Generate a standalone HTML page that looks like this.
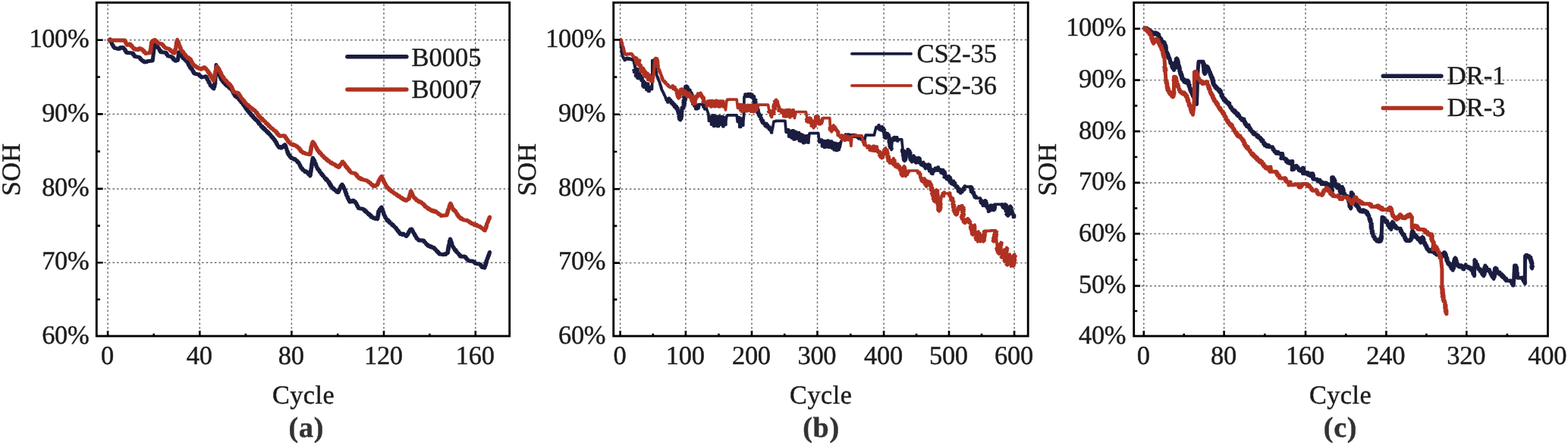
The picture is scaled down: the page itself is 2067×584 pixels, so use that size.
<!DOCTYPE html>
<html lang="en">
<head>
<meta charset="utf-8">
<title>SOH degradation curves</title>
<style>
html,body{margin:0;padding:0;background:#fff;}
body{width:2067px;height:584px;overflow:hidden;font-family:"Liberation Serif",serif;}
svg{display:block;}
</style>
</head>
<body>
<svg role="img" aria-label="SOH versus cycle for three battery datasets" width="2067" height="584" viewBox="0 0 2067 584" font-family="'Liberation Serif', 'Times New Roman', serif" font-size="34.5" fill="#1c1c1c" stroke="#1c1c1c" stroke-width="0.45" paint-order="stroke" text-rendering="geometricPrecision">
<rect width="2067" height="584" fill="#fff" stroke="none"/>
<g id="panel-a">
<path d="M142.10 5.40V443.05M263.30 5.40V443.05M384.40 5.40V443.05M506.00 5.40V443.05M626.80 5.40V443.05M137.30 52.70H671.70M137.30 150.40H671.70M137.30 248.90H671.70M137.30 346.30H671.70" stroke="#686868" stroke-width="1.45" stroke-dasharray="2.5 3.1" fill="none"/>
<path d="M145.0 51.9L145.2 53.2L146.4 54.0L146.1 55.5L147.3 56.3L147.5 57.5L147.7 58.8L149.1 59.5L148.9 61.0L150.2 61.7L150.6 63.1L156.2 64.4L157.7 64.3L158.1 62.7L159.4 62.5L160.5 63.2L161.9 62.3L163.1 63.1L163.4 64.4L164.8 65.1L164.7 66.6L166.1 67.2L165.9 68.7L166.9 69.4L174.4 70.0L175.7 70.5L175.5 72.3L177.2 72.5L177.1 74.2L178.1 74.4L183.8 75.6L184.9 76.3L184.9 78.0L186.5 78.2L186.7 79.7L187.5 80.0L188.9 80.0L189.5 81.6L191.2 81.9L192.3 81.1L193.8 81.5L195.0 80.6L201.2 80.0L202.5 68.8L203.8 58.8L205.1 58.9L206.2 60.0L206.6 61.3L208.1 61.7L208.1 63.3L209.6 63.7L210.0 65.0L210.2 66.4L211.9 66.8L211.6 68.5L212.5 68.8L218.8 69.4L219.8 70.2L219.5 71.8L221.0 72.4L221.2 73.8L226.9 75.0L227.1 76.4L228.9 76.6L228.6 78.4L230.2 78.7L230.6 80.0L231.9 80.3L233.0 79.1L234.4 79.4L235.6 68.8L235.9 70.1L237.6 70.4L237.6 72.0L238.8 72.5L240.0 73.1L239.8 74.8L241.5 75.1L241.3 76.8L242.5 77.5L243.9 77.8L244.1 79.5L245.7 79.5L245.9 81.2L246.9 81.2L247.8 82.2L247.6 83.7L248.9 84.4L248.6 86.0L250.0 86.7L250.0 87.5L250.2 88.9L251.8 89.2L251.8 90.8L253.5 91.1L253.8 92.5L254.0 93.8L255.4 94.4L255.2 96.0L256.2 96.9L261.2 98.1L262.7 98.3L263.0 100.0L264.5 100.0L264.9 101.6L266.2 101.9L271.2 100.6L272.3 101.5L272.1 103.0L273.5 103.7L273.3 105.2L274.4 106.2L275.3 107.2L275.0 108.7L276.3 109.5L276.9 111.2L277.2 112.6L278.9 112.8L278.9 114.5L280.5 114.7L280.6 116.3L281.9 116.9L281.6 115.5L282.8 114.5L282.1 113.1L283.3 112.1L282.7 110.7L283.9 109.6L283.2 108.2L283.8 107.5L285.0 85.6L284.9 87.0L286.2 87.9L285.7 89.3L286.9 90.3L286.5 91.7L287.7 92.6L287.2 94.1L288.4 95.0L288.0 96.5L289.2 97.4L288.8 98.8L289.9 99.8L290.0 101.2L290.3 102.5L291.8 103.0L291.5 104.8L293.1 105.2L293.0 106.8L294.6 107.2L294.4 108.8L295.4 109.6L296.7 110.0L297.0 111.6L298.8 111.3L299.0 113.1L300.8 112.9L301.1 113.9L301.5 115.3L303.3 115.3L303.3 117.0L305.0 117.1L305.2 118.6L306.1 118.9L307.1 119.8L306.7 121.4L308.0 122.2L307.8 123.6L309.1 124.4L309.2 125.8L310.0 126.9L311.6 126.7L312.0 128.4L313.6 128.9L314.9 129.4L314.8 131.2L316.4 131.5L316.4 133.1L318.1 133.3L318.0 135.0L319.7 135.2L319.9 136.4L320.1 137.7L321.7 138.2L321.7 139.7L323.2 140.2L323.1 141.8L324.6 142.2L324.5 143.9L326.1 144.2L326.1 145.2L326.4 146.5L328.1 146.8L328.1 148.4L329.8 148.6L329.7 150.3L331.3 150.6L331.2 152.3L332.4 152.7L333.7 153.1L333.7 154.9L335.3 155.0L335.4 156.6L337.1 156.7L337.2 158.4L338.6 158.9L339.9 159.5L339.8 161.1L341.4 161.4L341.2 163.2L342.9 163.5L343.6 165.2L344.1 166.4L345.8 166.5L345.8 168.2L347.6 168.2L347.6 170.0L349.4 170.0L349.4 171.7L351.1 171.8L351.1 172.7L351.5 174.0L353.4 173.9L353.3 175.7L355.0 175.8L355.2 177.4L356.8 177.5L357.4 178.9L357.6 180.3L359.4 180.5L359.3 182.1L360.8 182.5L360.9 184.1L362.5 184.4L362.3 186.1L363.4 186.6L364.4 187.5L364.1 189.1L365.4 189.8L365.3 191.2L366.5 192.0L366.8 193.2L367.7 194.3L369.3 193.5L370.1 195.1L371.3 194.9L371.7 193.6L373.5 193.6L373.6 191.9L375.3 191.8L375.6 190.6L376.4 191.7L376.2 193.1L377.3 194.0L377.0 195.5L378.1 196.4L378.1 197.5L378.2 198.8L379.4 199.7L378.9 201.2L380.3 202.0L379.9 203.5L380.6 204.4L382.0 204.8L382.0 206.5L383.6 206.7L383.7 208.4L385.0 208.8L386.4 208.7L387.2 210.1L388.7 209.5L390.0 210.6L390.5 211.9L392.0 212.2L392.0 213.9L393.7 214.0L394.4 215.6L394.6 216.9L395.8 217.7L395.6 219.2L396.9 219.9L396.8 221.4L397.5 221.9L398.8 222.4L398.9 224.0L400.5 224.2L401.2 225.6L402.2 226.6L403.8 225.9L405.0 226.9L405.3 228.2L406.9 228.6L406.8 230.2L408.5 230.5L408.8 231.9L409.4 230.7L408.7 229.3L409.7 228.2L409.1 226.9L410.2 225.8L409.6 224.4L410.5 223.3L410.0 221.9L411.0 220.8L410.6 220.0L410.5 218.7L411.4 217.6L410.7 216.2L411.8 215.1L411.2 213.8L412.1 212.6L411.6 211.3L412.5 210.2L412.0 208.8L412.5 208.1L412.5 209.5L414.0 210.2L413.7 211.7L415.0 212.5L415.0 213.8L415.2 215.0L416.4 215.9L416.0 217.4L417.2 218.2L417.0 219.7L418.2 220.6L418.1 221.2L418.3 222.6L419.9 223.0L419.9 224.6L421.4 225.0L421.3 226.7L422.5 227.5L423.7 228.2L423.6 229.8L425.2 230.1L425.2 231.8L426.8 232.1L427.5 233.8L428.0 235.0L429.7 235.1L429.7 236.9L431.5 236.8L431.6 238.5L432.5 238.8L433.6 239.5L433.3 241.2L435.0 241.6L434.6 243.4L436.4 243.7L435.8 245.5L437.5 245.9L437.5 246.9L438.0 248.2L439.8 248.0L439.9 249.8L441.6 249.8L442.0 251.3L443.6 251.3L443.8 253.0L445.5 252.9L445.6 253.8L446.5 252.8L446.3 251.3L447.6 250.5L447.2 249.0L448.5 248.2L448.8 246.9L448.9 245.5L450.6 245.1L450.4 243.5L451.2 243.1L451.4 244.4L452.6 245.2L452.3 246.8L453.7 247.5L453.4 249.0L454.4 250.0L455.3 251.0L454.8 252.5L456.1 253.4L455.7 254.8L457.0 255.7L456.5 257.2L457.5 258.8L458.5 259.6L458.2 261.2L459.5 261.9L459.3 263.4L460.7 264.1L460.5 265.7L461.2 266.2L462.3 265.4L463.8 265.9L464.5 264.3L466.2 264.4L466.5 265.8L468.4 265.9L468.3 267.6L469.9 267.9L470.0 268.8L470.1 270.1L471.4 270.9L471.2 272.3L472.5 273.1L472.5 274.4L478.8 275.6L479.3 276.9L481.1 276.8L481.1 278.6L482.9 278.5L483.0 280.2L484.7 280.2L485.0 281.2L485.5 282.6L487.3 282.4L487.4 284.2L489.2 284.1L489.2 285.9L490.9 285.9L491.2 286.9L492.3 287.7L493.8 287.2L494.7 288.4L496.2 287.7L497.5 288.8L498.1 287.6L497.5 286.2L498.6 285.1L498.0 283.8L499.1 282.7L498.3 281.3L499.4 280.2L498.7 278.8L499.4 278.1L500.5 277.4L500.4 275.7L502.1 275.5L502.0 273.9L503.1 273.1L503.2 274.4L504.2 275.4L503.9 276.8L505.0 277.8L504.6 279.2L505.8 280.1L505.6 281.2L505.7 282.6L507.0 283.4L506.9 284.8L508.1 285.6L507.9 287.1L508.8 288.1L510.0 288.6L510.0 290.4L511.9 290.3L511.8 292.1L513.6 292.1L513.6 293.9L515.0 294.4L516.3 294.8L516.5 296.4L518.2 296.4L518.4 298.0L519.9 298.2L520.3 299.7L521.2 300.0L522.5 300.6L522.4 302.2L523.9 302.7L523.9 304.3L525.6 304.6L525.5 306.2L527.0 306.6L527.0 308.2L528.1 308.8L529.4 308.1L530.6 309.4L531.9 308.1L532.5 308.8L533.3 309.8L534.9 309.7L535.2 311.4L536.2 311.2L536.4 309.9L537.8 309.2L537.6 307.8L538.9 307.0L538.7 305.5L540.0 304.7L540.0 303.8L540.6 302.5L542.3 302.7L542.5 301.9L543.4 302.8L543.4 304.2L544.7 304.9L544.6 306.4L545.6 307.5L546.6 308.4L546.5 309.9L547.9 310.5L547.8 312.0L549.1 312.7L549.0 314.2L550.0 315.0L551.4 315.3L551.7 316.8L552.5 316.9L557.5 316.9L558.9 317.3L558.9 319.0L560.5 319.2L561.2 320.6L561.7 321.9L563.4 322.0L563.5 323.7L565.0 324.4L566.4 324.1L567.3 325.5L568.8 324.8L569.6 326.4L571.2 326.2L572.5 326.7L572.7 328.4L574.3 328.5L575.0 330.0L575.4 331.3L577.2 331.4L577.3 333.0L578.8 333.2L579.0 334.9L580.0 335.0L585.0 335.6L586.0 334.8L587.6 335.4L588.3 333.8L590.0 333.8L590.7 332.6L590.1 331.2L591.0 330.1L590.3 328.7L591.5 327.7L590.8 326.3L591.9 325.2L591.2 323.8L591.9 322.5L592.6 321.4L592.1 320.0L593.2 318.9L592.5 317.5L593.5 316.5L593.5 315.0L594.2 316.1L593.9 317.5L595.0 318.5L594.7 319.9L595.9 320.8L595.3 322.3L596.2 323.8L597.2 324.6L597.2 326.1L598.4 326.8L598.8 328.1L599.2 329.4L600.9 329.6L600.8 331.4L602.4 331.6L602.6 333.1L603.8 333.8L604.9 334.4L604.9 336.1L606.6 336.2L606.6 337.9L607.5 338.1L612.5 338.1L613.8 338.6L613.8 340.3L615.3 340.6L615.5 342.2L617.0 342.5L617.5 343.8L623.8 344.4L624.4 345.5L626.0 345.6L626.3 347.2L627.5 347.5L632.5 348.1L633.7 348.8L633.7 350.4L635.4 350.5L635.3 352.3L636.2 352.5L637.6 352.3L638.8 353.1L639.4 352.0L639.1 350.6L640.3 349.7L639.8 348.2L641.0 347.3L640.4 345.8L641.7 344.9L641.2 343.4L641.9 342.5L642.7 341.5L642.4 340.0L643.6 339.1L643.3 337.7L644.5 336.8L644.2 335.3L645.3 334.5L645.1 333.0L645.6 332.5" stroke="#1a1d40" stroke-width="5.1" fill="none" stroke-linejoin="round" stroke-linecap="round"/>
<path d="M143.8 53.1L164.4 53.1L164.5 54.5L165.9 55.2L165.7 56.7L167.0 57.4L166.9 58.9L167.5 59.4L168.6 58.5L170.1 59.3L171.0 57.8L171.9 58.1L172.2 59.4L173.7 59.9L173.5 61.6L175.2 61.9L175.6 63.8L176.7 64.6L178.2 64.0L179.0 65.3L180.5 64.9L181.2 65.6L182.6 65.5L183.2 63.9L185.0 63.8L185.7 64.9L187.4 64.7L187.8 66.3L188.8 66.2L190.0 66.9L189.7 68.7L191.3 69.0L191.9 70.6L198.1 69.4L198.7 68.2L197.9 66.8L199.1 65.7L198.4 64.4L199.3 63.2L198.7 61.9L199.7 60.8L199.1 59.4L199.9 58.3L199.3 56.9L200.3 55.8L200.0 55.0L200.8 53.9L202.4 54.2L203.0 52.7L204.4 52.5L204.8 53.8L206.5 54.0L206.4 55.7L208.1 55.9L208.1 56.9L213.8 58.1L214.1 59.4L215.6 59.8L215.7 61.4L217.1 61.9L217.5 63.1L223.1 64.4L223.5 65.7L225.2 65.9L225.2 67.5L226.8 67.8L226.9 68.8L227.8 69.7L229.4 69.0L230.0 70.0L230.7 68.9L230.2 67.5L231.3 66.5L230.8 65.1L231.9 64.0L231.9 62.5L231.8 61.2L232.7 60.1L232.1 58.7L233.3 57.7L232.5 56.3L233.8 55.2L233.0 53.8L233.8 52.5L233.8 53.8L235.1 54.6L234.8 56.1L235.9 57.0L236.2 58.8L236.2 60.1L237.4 61.0L237.1 62.4L238.3 63.3L237.8 64.8L238.8 66.2L240.1 66.7L240.1 68.5L241.8 68.5L242.5 70.0L242.8 71.3L244.3 71.8L244.0 73.5L245.7 73.9L246.2 75.6L247.2 76.7L248.8 76.0L249.5 77.7L250.6 77.5L251.6 78.4L251.3 79.9L252.7 80.6L252.5 82.2L253.9 82.9L253.7 84.4L254.4 85.0L255.7 85.3L256.1 86.9L257.7 86.7L258.8 88.1L259.5 89.3L261.2 88.9L261.8 90.3L263.4 90.1L264.4 91.2L265.7 91.2L266.5 89.8L268.0 90.1L268.7 88.7L270.0 88.8L270.3 90.1L271.9 90.4L271.9 92.0L273.1 92.5L274.2 93.3L274.0 94.9L275.6 95.4L275.5 96.9L277.1 97.4L276.6 99.2L277.5 99.4L278.6 100.1L278.4 101.8L279.9 102.3L279.7 103.9L281.4 104.3L281.0 106.0L281.9 106.2L281.6 104.9L282.6 103.8L282.1 102.5L283.2 101.4L282.4 100.0L283.5 98.9L283.0 97.6L284.0 96.5L283.8 95.0L283.8 93.7L285.0 92.8L284.5 91.3L285.8 90.4L285.3 88.9L286.2 87.5L286.4 88.9L287.9 89.4L287.7 91.0L289.3 91.5L289.4 92.5L289.5 93.8L290.8 94.6L290.5 96.1L291.9 96.9L291.5 98.4L292.5 99.4L293.6 100.2L293.4 101.8L295.1 102.2L294.9 103.8L296.2 105.0L297.6 105.4L297.7 107.1L299.3 107.2L300.0 108.8L300.6 110.0L302.2 110.0L302.3 111.8L303.9 111.9L304.0 113.6L305.0 113.8L305.8 114.8L305.5 116.2L306.8 117.1L306.6 118.5L307.7 119.4L307.5 120.8L308.1 121.2L313.8 122.5L314.9 123.2L314.8 124.8L316.3 125.3L316.1 126.9L317.6 127.4L317.6 129.0L318.8 130.0L319.9 130.7L320.0 132.2L321.6 132.5L321.6 134.2L323.1 134.5L323.1 136.1L324.7 136.4L325.0 137.5L325.7 138.6L327.4 138.5L327.6 140.3L329.2 140.2L329.6 141.8L330.6 141.9L331.9 142.2L332.2 143.9L333.8 143.9L334.2 145.4L335.9 145.3L336.9 146.9L337.3 148.1L338.9 148.5L338.7 150.2L340.2 150.6L340.1 152.3L341.8 152.6L341.7 154.2L342.5 154.4L343.8 154.8L343.9 156.5L345.7 156.4L345.7 158.2L347.5 158.2L347.7 159.8L349.3 159.9L350.0 161.2L350.5 162.5L352.2 162.6L352.3 164.2L353.9 164.4L354.0 166.1L355.7 166.1L356.2 167.5L356.8 168.8L358.5 168.7L358.9 170.2L360.4 170.3L360.8 171.8L362.5 172.5L363.8 173.0L363.8 174.7L365.5 174.8L365.4 176.6L367.1 176.8L367.2 178.4L368.8 179.4L375.0 178.8L376.1 179.6L375.9 181.2L377.5 181.6L377.3 183.2L378.1 183.8L379.3 184.4L379.2 186.1L380.8 186.4L380.9 188.0L382.3 188.4L382.5 189.4L383.8 190.0L384.8 190.9L386.3 190.1L387.2 191.5L388.7 191.0L390.0 191.9L390.6 193.1L392.3 193.0L392.6 194.6L393.8 195.0L395.0 195.6L394.8 197.4L396.5 197.6L396.3 199.3L397.5 200.0L398.9 200.0L399.5 201.6L401.1 201.2L402.5 202.5L408.8 203.8L409.4 202.6L408.7 201.2L409.9 200.1L409.2 198.8L410.3 197.7L409.6 196.3L410.6 195.2L409.9 193.8L410.6 192.5L411.4 191.5L411.0 190.0L412.2 189.1L411.8 187.6L412.5 186.9L412.6 188.3L414.2 188.7L414.1 190.3L415.5 190.9L415.6 191.9L415.9 193.2L417.2 193.9L416.9 195.4L418.3 196.1L418.0 197.7L418.8 198.1L420.1 198.6L419.9 200.4L421.7 200.5L421.6 202.3L423.3 202.4L423.8 203.8L424.2 205.1L425.9 205.1L426.1 206.7L427.6 207.0L427.7 208.6L428.8 208.8L430.1 209.1L430.3 210.8L432.0 210.6L432.3 212.4L434.0 212.2L435.0 213.8L435.8 214.9L437.5 214.3L438.0 216.1L440.0 216.2L441.4 216.4L441.7 218.1L443.4 217.9L443.8 219.5L445.4 219.5L446.2 220.6L447.5 220.0L447.4 218.3L448.9 217.9L448.9 216.4L450.0 215.6L451.2 215.0L451.0 213.2L451.9 213.1L452.1 214.5L453.7 214.9L453.5 216.6L455.1 217.0L455.0 218.1L455.4 219.4L457.1 219.6L456.9 221.4L458.6 221.6L458.8 222.5L459.1 223.8L460.8 224.1L460.6 225.8L462.2 226.2L462.5 227.5L468.8 228.8L468.9 230.2L470.7 230.5L470.3 232.2L471.9 232.7L472.5 234.4L473.5 235.3L475.1 234.7L475.7 236.4L477.3 235.8L478.8 236.9L483.8 238.1L484.5 239.3L486.0 239.2L486.5 240.7L488.1 240.7L488.8 241.9L489.2 243.2L490.9 243.2L491.1 244.8L492.5 245.6L493.5 244.8L495.1 245.4L495.8 243.9L497.5 243.8L498.2 242.7L497.9 241.2L499.1 240.3L498.8 238.9L500.0 238.0L500.0 236.9L500.4 235.6L501.8 235.1L501.7 233.5L503.1 232.5L503.3 233.8L504.5 234.6L504.3 236.1L505.5 236.9L505.1 238.4L506.5 239.2L506.2 240.0L506.5 241.3L508.0 241.9L507.8 243.5L509.2 244.1L509.0 245.6L510.0 246.2L511.2 246.8L511.4 248.4L513.1 248.5L513.1 250.2L514.9 250.2L515.0 251.2L515.7 252.4L517.3 252.3L517.8 253.8L519.4 253.7L519.8 255.3L521.2 255.6L522.7 255.8L523.0 257.5L524.6 257.4L525.0 259.0L526.8 258.6L527.5 260.0L528.3 261.1L530.0 260.7L530.5 262.4L532.1 262.1L532.6 263.7L534.2 263.3L535.0 264.4L536.4 264.3L536.9 262.6L538.8 262.5L539.6 261.4L539.1 260.0L540.2 259.0L539.7 257.6L540.9 256.6L540.5 255.2L541.6 254.2L541.1 252.8L541.9 251.9L541.9 253.2L543.2 254.0L542.9 255.5L544.1 256.4L543.9 257.8L545.1 258.7L545.0 259.4L545.5 260.6L547.1 260.8L547.3 262.3L548.9 262.6L548.9 264.3L550.0 264.4L551.3 264.5L551.9 266.1L553.6 265.6L554.3 267.0L555.8 266.7L556.2 267.5L556.8 268.7L558.5 268.8L558.5 270.5L560.2 270.6L560.2 272.4L561.2 272.5L562.6 272.8L563.0 274.4L564.6 274.2L565.0 275.9L566.7 275.6L567.5 276.9L568.5 277.8L570.0 277.2L570.8 278.7L572.4 277.9L573.2 279.4L574.8 278.7L576.2 280.0L576.9 281.2L578.4 281.3L578.8 282.8L580.3 282.9L581.2 284.4L588.8 283.8L589.5 282.7L589.1 281.2L590.3 280.3L589.8 278.8L591.0 277.9L590.6 276.5L591.7 275.5L591.9 273.8L591.9 272.4L593.1 271.5L592.7 270.1L593.8 269.1L593.8 268.1L594.7 269.1L594.5 270.5L595.8 271.3L595.4 272.9L596.6 273.7L596.9 275.0L597.2 276.4L598.9 276.6L598.9 278.2L600.7 278.3L601.2 280.0L601.6 281.3L602.9 281.9L602.7 283.5L604.3 284.0L604.1 285.5L605.0 286.2L606.4 286.3L606.8 288.1L608.5 287.7L609.0 289.3L610.6 289.1L611.2 290.0L616.2 290.6L617.0 291.8L618.6 291.7L619.0 293.2L620.6 293.1L621.1 294.6L622.5 295.0L623.9 294.9L624.7 296.4L626.3 295.6L627.0 297.2L628.6 296.5L629.4 298.1L631.2 298.1L632.7 298.2L633.1 299.8L634.7 299.7L635.2 301.3L636.2 301.2L637.7 301.5L637.8 303.3L639.4 303.8L639.3 302.4L640.5 301.5L640.1 300.0L641.4 299.1L640.8 297.7L641.9 296.7L641.5 295.2L642.5 293.8L643.4 292.8L643.1 291.3L644.3 290.5L644.0 289.0L645.3 288.2L645.0 286.7L645.6 286.2" stroke="#b03121" stroke-width="5.1" fill="none" stroke-linejoin="round" stroke-linecap="round"/>
<path d="M142.10 443.05v-7M202.70 443.05v-3.2M263.30 443.05v-7M323.85 443.05v-3.2M384.40 443.05v-7M445.20 443.05v-3.2M506.00 443.05v-7M566.40 443.05v-3.2M626.80 443.05v-7M127.30 52.70h8.4M127.30 101.55h4.6M127.30 150.40h8.4M127.30 199.65h4.6M127.30 248.90h8.4M127.30 297.60h4.6M127.30 346.30h8.4M127.30 394.68h4.6" stroke="#000" stroke-width="2.6" fill="none"/>
<rect x="127.30" y="3.40" width="544.40" height="439.65" fill="none" stroke="#000" stroke-width="2.85"/>
<text x="117.3" y="62.1" text-anchor="end" letter-spacing="-0.4">100%</text>
<text x="117.3" y="159.9" text-anchor="end" letter-spacing="-0.4">90%</text>
<text x="117.3" y="257.6" text-anchor="end" letter-spacing="-0.4">80%</text>
<text x="117.3" y="355.4" text-anchor="end" letter-spacing="-0.4">70%</text>
<text x="117.3" y="453.2" text-anchor="end" letter-spacing="-0.4">60%</text>
<text x="141.5" y="479.6" text-anchor="middle" letter-spacing="-0.3">0</text>
<text x="262.7" y="479.6" text-anchor="middle" letter-spacing="-0.3">40</text>
<text x="383.8" y="479.6" text-anchor="middle" letter-spacing="-0.3">80</text>
<text x="505.4" y="479.6" text-anchor="middle" letter-spacing="-0.3">120</text>
<text x="626.2" y="479.6" text-anchor="middle" letter-spacing="-0.3">160</text>
<text transform="translate(26.0 223.7) rotate(-90)" text-anchor="middle">SOH</text>
<text x="400.0" y="532.4" text-anchor="middle" font-size="34.3" letter-spacing="0.45">Cycle</text>
<text x="403.8" y="575.6" text-anchor="middle" font-weight="bold" font-size="38" letter-spacing="0.7" fill="#333" stroke="#333">(a)</text>
<path d="M457.91 74.7H535.89" stroke="#1a1d40" stroke-width="5.5" stroke-linecap="round" fill="none"/>
<text x="542.4" y="87" font-size="34.6">B0005</text>
<path d="M457.91 118.1H535.89" stroke="#b03121" stroke-width="5.5" stroke-linecap="round" fill="none"/>
<text x="542.4" y="128.8" font-size="34.6">B0007</text>
</g>
<g id="panel-b">
<path d="M817.60 5.40V443.05M903.90 5.40V443.05M991.00 5.40V443.05M1077.50 5.40V443.05M1165.10 5.40V443.05M1251.00 5.40V443.05M1337.10 5.40V443.05M818.75 52.50H1355.20M818.75 150.80H1355.20M818.75 249.20H1355.20M818.75 346.60H1355.20" stroke="#686868" stroke-width="1.45" stroke-dasharray="2.5 3.1" fill="none"/>
<path d="M818.4 52.1L818.9 53.3L818.1 54.6L819.2 55.8L818.2 57.0L819.2 58.3L818.3 59.5L819.5 60.8L818.4 62.0L819.1 63.7L819.8 64.9L819.1 66.2L820.1 67.4L819.2 68.6L820.4 69.9L819.7 71.1L820.7 72.4L820.5 73.3L820.5 74.4L821.9 75.6L821.6 76.7L823.1 77.9L823.2 79.5H824.0V77.9H824.7V78.2H825.3V76.7H826.5V76.3H827.7V78.1H828.9V76.8H830.2V78.3H831.4V78.1H832.6V77.7H833.8V79.6H835.5V79.5L835.3 80.7L836.4 81.9L835.7 83.1L837.1 84.4L836.3 85.6L837.5 86.8L836.7 88.0L837.6 89.7L841.3 91.2L835.1 92.5L842.9 94.3L835.6 95.3L843.8 97.0L840.3 97.9L837.5 98.9L845.3 99.7L837.8 100.6L846.1 101.7L840.1 103.1L846.4 104.3L845.1 106.2H846.0V102.3H847.1V113.7H848.0V106.5H848.7V115.2H849.7V108.6H850.6V113.0H851.9V118.5H853.4V110.0H854.6V120.5H856.1V117.1H857.9V114.2H859.5V117.8L859.8 104.8L859.8 79.5H862.3V78.8L862.9 80.0L862.4 81.2L863.2 82.5L862.7 83.7L863.6 84.9L863.2 86.2L864.1 87.4L863.5 88.6L864.5 89.9L864.0 91.1L864.9 92.3L864.4 93.6L865.2 94.8L864.8 96.0L865.6 97.3L865.3 98.5L865.7 99.3L866.6 100.5L866.4 101.6L867.5 102.8L867.2 103.9L868.4 105.1L868.3 106.2L869.1 107.5L869.8 108.7L869.6 109.9L870.6 111.1L870.2 112.3L871.4 113.5L871.1 114.7L872.1 115.9L871.7 117.1L872.5 118.5L873.4 119.6L873.3 120.7L874.6 121.8L874.5 123.0L875.7 124.1L875.5 125.2L876.6 126.7L877.3 127.9L877.2 129.1L878.3 130.2L878.1 131.4L878.8 132.5H879.9V134.8H881.1V129.3H882.5V131.2H883.2V133.9H883.9V131.5H884.6V136.5H885.0V135.0H885.9V134.1H886.8V138.6H887.7V136.0H888.5V141.1H889.4V137.6H890.0V140.0H890.8V143.3H891.5V139.8H892.2V145.2H893.0V142.1H893.8V145.0L895.7 146.2L892.9 147.4L896.1 148.6L893.6 149.9L896.8 151.1L895.6 152.5L894.2 153.7L898.1 155.0L894.7 156.2L898.1 157.4L896.9 158.8L895.1 157.5L898.8 156.3L896.2 155.0L899.3 153.8L895.8 152.6L899.6 151.3L896.1 150.1L899.5 148.8L896.7 147.6L899.9 146.4L898.8 145.0L898.1 143.9L901.7 142.8L898.4 141.6L901.2 140.0L902.9 138.8L900.3 137.5L903.4 136.3L900.2 135.0L903.4 133.8L900.3 132.6L904.3 131.3L901.2 130.1L904.6 128.8L900.8 127.6L904.2 126.4L903.1 125.0L901.9 123.8L904.9 122.5L902.2 121.3L905.3 120.1L902.5 118.8L906.0 117.6L902.6 116.4L906.7 115.1L902.9 113.9L905.0 113.1L906.7 114.3L904.4 115.5L907.7 116.7L905.3 117.9L906.9 118.8H907.9V121.5H908.8V118.7H910.0V121.2L911.9 122.4L909.0 123.6L912.9 124.7L910.2 125.9L912.5 127.5L914.1 128.7L911.4 130.0L914.6 131.2L912.1 132.4L915.4 133.6L912.4 134.9L915.8 136.1L912.9 137.3L916.1 138.5L915.0 140.0H915.9V138.7H916.8V143.7H917.7V140.8H918.8V143.8L921.2 142.6L918.5 141.4L921.7 140.3L918.8 139.1L921.2 137.5H926.2V138.8H927.1V141.3H928.0V138.7H928.9V143.9H930.0V142.5H931.2L933.8 150.0L934.5 159.5H936.0V153.5H937.6V164.2H939.5V151.9H940.7V166.5H941.6V152.6H942.7V165.8H944.0V153.3H945.6V166.6H947.5V153.2H949.1V164.4H951.0V153.5H952.9V166.8H954.0V154.9H955.3V164.4H956.9V159.5L958.1 152.5H958.8V151.9H971.2L972.2 160.6H973.4V154.7H974.8V167.4H976.7V156.0H977.7V165.2H979.8V160.6L980.6 152.5L981.0 127.5H982.0V124.2H983.1V126.0H984.4V127.5H985.6V123.7H986.8V127.1H987.5V125.2H988.6V123.7H989.8V128.2H990.9V124.3H991.9V127.2H992.7V130.3H993.6V126.8H994.4V130.0L996.7 131.7L993.1 133.7L996.9 134.7L993.7 136.6L995.6 137.5L998.0 138.8L994.7 140.4L999.2 142.2L996.0 143.8L1000.1 144.8L996.7 145.7L998.8 146.2L1000.4 147.3L998.0 148.6L1001.6 149.9L999.4 151.4L1003.4 152.4L1000.5 153.6L1002.5 155.0L1004.4 155.8L1002.3 157.4L1006.4 158.8L1003.7 160.1L1007.1 161.0L1004.7 162.2L1007.5 163.8H1008.3V166.3H1009.5V162.6H1010.8V167.9H1011.9V164.7H1012.5V167.5H1013.3V170.3H1014.1V167.0H1015.0V172.0H1015.6V168.5H1016.7V174.9H1017.5V173.1L1018.8 167.5L1020.0 160.0H1022.5V159.4H1035.0L1036.2 174.4H1037.9V170.8H1039.7V180.1H1041.4V172.5H1043.2V182.0H1044.7V171.8H1046.1V183.9H1047.8V173.3H1049.1V183.1H1050.0V179.4H1051.6V174.7H1053.4V185.8H1054.4V176.6H1056.1V186.6H1057.0V177.8H1058.7V188.6H1060.2V179.0H1061.7V187.7H1063.3V178.8H1065.2V188.1H1066.0V184.4L1066.9 176.2H1067.5V175.6H1078.8L1080.0 187.5H1081.5V184.1H1083.5V193.0H1084.6V185.6H1086.5V194.4H1087.8V185.8H1089.3V193.6H1091.0V185.0H1092.2V194.3H1093.8V191.0H1094.9V186.1H1096.6V195.6H1098.1V188.1H1099.3V197.7H1101.2V188.7H1102.1V198.5H1104.0V189.7H1105.3V197.4H1106.2V188.8H1107.2V194.4L1108.8 186.2L1112.5 180.0H1113.5V180.3H1114.5V177.1H1115.0V178.1H1116.2V179.5H1117.5V177.0H1118.7V179.5H1120.0V177.6H1121.2V180.1H1122.5V177.9H1123.7V180.2H1125.0V177.7H1126.2V180.3H1127.4V178.1H1128.8V179.4H1129.7V181.1H1130.7V179.8H1131.6V182.8H1132.5V182.5H1133.7V181.5H1135.0V184.1H1136.2V181.8H1137.4V184.4H1138.7V182.2H1140.0V183.8L1141.2 178.1H1152.5V177.5L1155.0 167.5H1156.1V169.2H1157.5V166.2H1158.2V164.9H1158.9V171.0H1159.6V167.7H1160.0V170.0H1161.0V171.8H1162.0V166.8H1163.1V167.5L1164.9 168.6L1162.9 169.7L1166.4 170.9L1165.6 172.5L1164.3 173.7L1168.1 175.0L1164.9 176.2L1168.3 177.4L1165.2 178.6L1168.8 179.9L1165.4 181.1L1167.5 182.5L1169.6 181.3L1166.3 180.2L1170.0 179.0L1167.6 177.8L1170.9 176.6L1170.0 175.6L1169.0 176.8L1172.1 178.0L1169.3 179.2L1172.7 180.4L1169.9 181.6L1173.5 182.8L1172.5 183.8L1171.2 185.0L1174.7 186.2L1171.3 187.4L1175.2 188.7L1172.0 189.9L1175.3 191.1L1172.1 192.4L1175.6 193.6L1173.0 194.8L1176.0 196.0L1175.0 197.5L1176.2 185.0H1177.1V181.6H1178.0V185.1H1178.9V180.6H1179.4V181.9H1180.5V184.7H1181.7V180.9H1182.8V186.0H1183.8V183.8H1188.8V185.0L1190.0 196.2L1188.7 197.5L1192.3 198.7L1188.8 200.0L1192.5 201.2L1189.6 202.4L1192.8 203.7L1189.6 204.9L1193.1 206.1L1190.3 207.4L1193.2 208.6L1190.5 209.8L1194.0 211.1L1192.5 212.5L1191.0 211.3L1194.5 210.0L1191.8 208.8L1194.9 207.6L1191.4 206.3L1195.6 205.1L1191.9 203.8L1195.9 202.6L1192.3 201.4L1194.4 200.0H1195.4V201.6H1196.3V196.6H1197.5V197.5L1199.5 198.7L1196.5 199.9L1200.7 201.1L1197.6 202.2L1200.8 203.4L1200.0 205.0L1198.7 206.2L1202.2 207.4L1198.9 208.7L1202.9 209.9L1199.7 211.1L1203.0 212.3L1201.9 213.8L1201.0 212.5L1203.9 211.3L1201.6 210.1L1204.9 208.9L1202.3 207.7L1205.6 206.5L1204.4 205.0L1203.4 206.2L1206.5 207.4L1203.9 208.6L1207.8 209.8L1204.3 211.0L1207.9 212.2L1205.6 213.4L1207.5 215.0L1209.8 213.9L1207.1 212.8L1210.9 211.6L1207.8 210.5L1212.3 209.4L1208.8 208.3L1211.2 207.5L1213.0 208.7L1209.9 209.9L1213.4 211.1L1211.2 212.4L1214.1 213.6L1211.1 214.8L1214.7 216.0L1213.8 217.5H1214.8V215.0H1215.8V218.4H1216.9V213.6H1217.5V215.0L1219.6 216.2L1216.7 217.4L1220.1 218.6L1217.8 219.7L1221.3 220.9L1220.0 222.5L1219.1 221.4L1222.7 220.4L1220.0 219.3L1224.2 218.2L1221.7 217.1L1223.8 216.2L1226.1 217.4L1223.1 218.6L1226.6 219.8L1223.3 221.0L1227.4 222.2L1223.9 223.4L1228.0 224.6L1224.8 225.8L1228.7 227.0L1227.5 228.8H1228.2V225.6H1229.0V229.4H1229.8V223.3H1230.5V226.5H1231.2V223.8H1232.4V221.4H1233.5V225.0H1235.0V221.9H1236.1V220.0H1237.2V225.1H1238.8V223.8H1239.4V223.0H1240.1V228.1H1240.8V224.3H1241.2V227.5H1241.9V228.5H1242.6V223.7H1243.3V226.2H1243.8V223.8L1242.5 225.0L1245.9 226.2L1243.0 227.4L1246.5 228.6L1243.6 229.9L1246.9 231.1L1245.6 232.5L1244.2 233.6L1248.0 234.7L1247.5 236.2H1248.4V232.9H1249.3V237.1H1250.2V231.8H1251.2V232.5L1253.1 233.7L1249.9 234.9L1253.9 236.1L1251.1 237.4L1254.1 238.6L1251.3 239.8L1255.1 241.0L1253.8 242.5H1254.8V239.3H1255.8V243.4H1256.9V238.4H1257.5V240.0L1259.6 241.2L1256.8 242.4L1260.0 243.6L1257.7 244.7L1261.4 245.9L1260.0 247.5H1261.2V245.1H1262.3V248.6H1263.1V246.2L1262.1 247.5L1265.2 248.7L1262.1 249.9L1266.1 251.1L1262.6 252.3L1265.0 253.8H1265.9V254.8H1266.8V250.1H1267.7V253.2H1268.8V250.0H1269.6V247.4H1270.5V250.6H1271.4V245.2H1272.5V246.2H1280.0V245.6L1281.7 246.9L1278.6 248.1L1282.5 249.3L1279.2 250.5L1282.6 251.8L1279.7 253.0L1283.3 254.2L1281.9 255.0H1283.0V253.3H1284.2V257.6H1285.0V256.2L1283.4 257.5L1287.0 258.7L1284.2 259.9L1286.2 261.2H1292.5V262.5L1294.1 263.7L1291.8 264.9L1295.5 266.1L1292.5 267.3L1294.4 268.8H1295.4V271.3H1296.3V268.1H1297.5V271.2L1299.3 270.0L1296.1 268.8L1299.4 267.6L1296.3 266.3L1300.4 265.1L1298.8 263.8L1297.0 265.0L1300.6 266.2L1297.9 267.4L1301.4 268.6L1298.9 269.9L1302.0 271.1L1299.4 272.3L1302.6 273.5L1301.2 275.0H1301.9V273.9H1302.6V279.1H1303.3V275.8H1303.8V278.8L1306.0 277.5L1302.8 276.3L1306.5 275.1L1303.5 273.9L1306.9 272.7L1303.8 271.5L1306.2 270.0L1308.1 271.1L1305.4 272.2L1309.7 273.4L1306.7 274.5L1311.0 275.6L1307.7 276.7L1310.0 277.5L1311.6 276.3L1309.2 275.0L1312.4 273.8L1309.5 272.6L1312.3 271.3L1309.8 270.1L1311.2 269.4H1321.2V268.8L1323.1 269.9L1320.3 271.1L1323.9 272.2L1321.5 273.4L1323.8 275.0L1325.7 273.8L1322.4 272.5L1326.4 271.3L1323.4 270.1L1325.0 268.8L1327.1 270.0L1323.8 271.2L1327.7 272.4L1324.7 273.6L1327.7 274.9L1324.7 276.1L1328.6 277.3L1325.4 278.5L1327.5 280.0L1329.4 281.2L1326.1 282.4L1330.2 283.6L1328.8 285.0L1327.2 283.8L1330.6 282.6L1328.2 281.3L1331.6 280.1L1328.5 278.9L1331.8 277.7L1329.3 276.5L1332.3 275.2L1329.8 274.0L1333.2 272.8L1331.9 271.2L1330.2 272.5L1333.9 273.7L1331.1 274.9L1334.0 276.2L1330.9 277.4L1335.0 278.6L1331.5 279.9L1335.4 281.1L1333.8 282.5H1334.6V281.3H1335.5V286.4H1336.4V283.5H1337.5V286.2" stroke="#1a1d40" stroke-width="3.7" fill="none" stroke-linejoin="round" stroke-linecap="round"/>
<path d="M818.4 52.1L819.4 53.2L818.6 54.4L820.1 55.6L819.5 56.8L820.7 58.0L820.0 59.2L821.2 61.0L822.0 62.2L821.4 63.4L822.6 64.6L821.9 65.8L823.1 67.0L822.4 68.2L823.8 69.4L823.2 70.7L823.9 71.9H825.1V72.1H826.4V71.0H827.3V71.2H828.6V71.6H829.8V70.5H831.1V71.3H832.1V70.8H832.8V71.4H833.5V73.3H834.2V73.4H834.9V75.3H835.5V76.0H836.8V75.7H838.0V76.8H839.7V76.7L837.1 78.0L843.7 79.6L837.4 80.8L843.2 82.0L838.5 83.8L844.6 85.6L841.7 86.3H842.9V84.8H843.9V93.9H844.6V86.3H845.4V94.6H845.8V91.8H847.0V89.5H848.2V97.8H849.0V91.7H849.5V101.0H850.5V94.0H851.3V98.6H852.0V102.1H852.7V96.3H853.9V105.4H855.3V98.4H856.1V103.4H857.3V106.8H858.5V101.0H859.6V107.6H860.9V104.8L860.5 103.6L861.6 102.3L860.9 101.1L861.8 99.8L861.0 98.6L862.1 97.3L861.3 96.1L862.2 94.8L861.7 93.6L862.5 92.4L862.3 91.1L862.0 89.9L863.1 88.6L862.3 87.4L863.2 86.1L862.5 84.9L863.5 83.6L862.8 82.4L863.7 81.2L863.1 79.9L864.0 78.7L863.4 77.4L863.9 76.7H865.1V77.6H866.4V77.1L865.9 78.4L867.4 79.6L866.0 80.9L867.7 82.1L866.2 83.3L867.8 84.6L866.6 85.8L868.2 87.1L866.8 88.3L867.7 89.7L868.9 90.9L867.9 92.0L869.9 93.2L868.8 94.3L870.9 95.5L870.0 96.6L871.2 97.9L872.1 99.1L871.4 100.3L873.0 101.5L872.1 102.7L873.9 103.9L872.8 105.1L873.9 106.2H874.8V107.7H875.7V106.9H876.6V109.7H877.4V108.7H878.0V110.3H878.9V112.0H879.8V111.3H880.7V113.7H881.5V113.0H882.1V114.4H883.3V115.5H885.0V115.0H886.2V112.9H887.3V117.5H888.5V114.5H890.0V116.9L892.1 118.0L889.9 119.0L893.7 120.1L892.5 121.2L891.4 122.5L894.6 123.7L892.0 124.9L894.8 126.1L892.6 127.4L895.9 128.6L894.4 130.0L893.7 128.9L896.9 127.8L894.4 126.6L896.9 125.0L899.1 123.8L896.1 122.6L899.6 121.3L896.5 120.1L899.7 118.9L896.7 117.7L898.8 116.9L900.9 118.1L898.2 119.3L901.2 120.5L898.4 121.7L902.3 122.8L899.2 124.0L901.2 125.0L903.5 123.9L900.5 122.8L904.2 121.6L903.8 120.0L902.2 121.2L906.3 122.4L903.0 123.6L907.0 124.7L904.3 125.9L906.2 127.5L908.2 126.4L906.0 125.3L909.2 124.1L908.8 122.5L907.2 123.7L911.2 124.9L908.1 126.1L912.2 127.2L908.9 128.4L911.2 130.0L913.3 131.1L910.8 132.2L914.7 133.4L912.3 134.5L916.0 135.6L913.0 136.7L915.0 137.5L917.2 136.3L914.3 135.1L917.1 133.8L914.7 132.6L917.7 131.4L914.6 130.2L918.5 129.0L915.3 127.7L917.5 126.2H918.6V128.1H919.7V123.1H920.9V126.2H922.5V123.8H923.2V122.3H924.0V127.6H924.7V124.8H925.4V129.6H926.1V127.0H926.9V132.5H927.6V128.9H928.3V133.6H928.8V132.5L926.2 134.0L930.0 135.6H931.3V140.1H932.7V133.0H934.4V138.7H935.4V132.8H936.9V141.0H938.0V132.5H939.4V139.9H940.6V133.3H941.6V140.6H943.5V132.4H944.9V140.0H945.9V133.2H947.3V141.0H949.1V133.2H950.7V139.9H952.5V133.2H953.6V141.0H955.0V137.2L956.5 145.0L957.8 132.5H958.8V131.2H971.2L972.5 142.5H974.5V137.6H975.7V145.4H976.7V137.8H977.8V147.3H978.8V138.1H980.2V145.7H982.0V139.4H983.7V146.7H984.9V138.3H986.0V145.8H987.5V138.5H989.5V147.1H991.0V138.7H992.3V147.5H994.2V138.7H996.1V145.5H997.6V138.2H998.8V142.5L1000.0 138.2H1012.5L1013.8 145.0L1016.2 146.2L1012.7 147.4L1015.0 148.8H1015.7V152.5H1016.4V149.1H1017.1V154.5H1017.5V152.5L1016.6 151.3L1020.4 150.2L1017.6 149.0L1020.9 147.9L1020.0 146.2L1018.9 145.0L1022.4 143.8L1019.2 142.6L1022.2 141.3L1019.0 140.1L1022.6 138.9L1019.7 137.6L1023.5 136.4L1021.9 135.0L1020.6 133.8L1024.1 132.6L1023.1 131.2L1021.9 132.5L1025.4 133.7L1022.6 134.9L1025.7 136.1L1022.6 137.4L1026.3 138.6L1025.0 140.0H1025.7V138.8H1026.4V144.0H1027.1V140.7H1027.5V143.8L1031.8 145.0L1026.0 146.2L1032.0 147.2L1030.0 148.8H1031.7V145.5H1032.7V153.5H1033.9V145.4H1035.4V153.9H1036.3V144.9H1037.4V153.3H1039.1V144.5H1040.9V154.8H1041.9V145.7H1043.1V153.0H1044.8V144.9H1046.2V150.2L1047.5 155.6L1048.8 147.5H1062.5L1063.8 155.0L1065.9 156.2L1062.7 157.5L1065.7 158.7L1062.9 159.9L1065.0 161.2L1066.7 160.1L1064.4 158.9L1068.2 157.8L1065.5 156.6L1067.5 155.0L1069.3 156.2L1066.3 157.4L1070.2 158.6L1067.2 159.8L1071.1 161.0L1067.9 162.2L1070.0 163.8L1072.5 164.9L1069.2 166.0L1073.5 167.1L1072.5 168.8L1071.6 167.5L1075.0 166.3L1071.7 165.1L1075.6 163.9L1072.4 162.7L1075.8 161.5L1075.0 160.0L1073.8 158.8L1077.6 157.6L1074.5 156.4L1078.1 155.1L1074.6 153.9L1076.9 152.5L1079.1 153.7L1075.4 154.9L1079.2 156.2L1076.6 157.4L1079.6 158.6L1077.1 159.8L1078.8 161.2H1079.6V163.8H1080.5V161.2H1081.2V163.8L1083.4 162.6L1080.5 161.4L1084.3 160.2L1081.3 159.0L1084.7 157.8L1083.8 156.2H1085.0V155.6H1093.8L1094.4 167.5L1093.3 168.7L1096.3 169.9L1093.5 171.1L1097.0 172.3L1096.2 173.8L1095.1 172.5L1098.3 171.3L1095.4 170.1L1099.5 168.9L1096.1 167.7L1099.8 166.5L1098.8 165.0L1097.7 166.1L1101.1 167.2L1098.6 168.4L1102.5 169.5L1099.6 170.6L1103.9 171.7L1102.5 172.5H1103.2V171.6H1104.0V176.5H1104.8V173.7H1105.5V178.4H1106.2V177.5L1104.2 178.6L1109.6 180.3L1107.5 181.2H1109.0V178.1H1110.1V184.5H1111.5V178.8H1113.4V185.2H1114.3V178.9H1115.4V184.5H1117.3V179.9H1118.7V184.6H1120.0V180.4H1120.6V182.5L1121.9 192.5L1123.1 179.4H1123.8V178.8H1136.2L1137.5 187.5H1138.5V190.3H1139.6V186.3H1140.6V191.3H1141.2V190.0L1139.6 191.7L1145.1 192.7L1143.1 195.0H1144.4V192.2H1146.2V198.1H1148.0V193.5H1149.4V198.8H1150.8V192.4H1152.7V199.2H1154.6V193.2H1156.3V199.6H1157.5V197.5L1156.0 198.7L1160.3 199.8L1156.9 201.0L1160.9 202.1L1160.0 203.8L1158.7 204.9L1162.7 206.0L1160.1 207.1L1162.5 208.8L1164.3 207.5L1161.3 206.3L1165.0 205.1L1162.6 203.9L1165.5 202.7L1162.8 201.5L1165.0 200.0L1166.8 198.9L1164.7 197.8L1167.9 196.6L1167.5 195.0L1165.9 196.2L1169.9 197.4L1167.0 198.6L1170.3 199.9L1167.7 201.1L1171.0 202.3L1168.2 203.5L1170.0 205.0L1172.2 206.2L1169.0 207.4L1172.4 208.6L1169.8 209.9L1172.8 211.1L1170.1 212.3L1173.8 213.5L1172.5 215.0H1173.5V212.5H1174.6V215.5H1175.6V210.9H1176.2V212.5H1177.0V213.5H1177.8V208.6H1178.1V210.0L1179.9 211.2L1176.7 212.5L1180.1 213.7L1177.3 214.9L1180.5 216.1L1177.5 217.4L1181.2 218.6L1180.0 220.0H1181.0V216.9H1182.1V220.9H1183.1V216.1H1183.8V217.5L1186.1 218.6L1183.5 219.7L1187.2 220.9L1184.5 222.0L1187.9 223.1L1185.6 224.2L1187.5 225.0L1189.8 226.2L1187.0 227.4L1190.1 228.6L1187.4 229.7L1191.1 230.9L1190.0 232.5L1188.4 231.3L1191.6 230.0L1188.9 228.8L1192.5 227.5L1189.2 226.3L1192.3 225.1L1189.8 223.8L1193.2 222.6L1189.5 221.4L1193.0 220.1L1191.9 218.8L1190.6 220.0L1193.5 221.2L1190.6 222.5L1193.9 223.7L1190.7 224.9L1194.3 226.2L1191.1 227.4L1195.2 228.7L1192.1 229.9L1195.0 231.1L1193.8 232.5L1193.0 231.4L1196.3 230.3L1193.9 229.1L1197.4 228.0L1195.1 226.9L1199.0 225.8L1197.5 225.0H1203.8H1210.0L1209.0 226.2L1212.5 227.3L1210.0 228.5L1213.8 229.6L1212.5 231.2H1213.8V232.5L1212.7 233.7L1216.1 234.9L1213.6 236.1L1216.6 237.2L1214.3 238.4L1216.2 240.0L1218.8 238.9L1216.0 237.8L1219.5 236.6L1218.8 235.0L1217.5 236.2L1221.1 237.4L1217.9 238.7L1221.1 239.9L1218.1 241.1L1221.7 242.3L1219.0 243.5L1222.2 244.8L1221.2 246.2L1220.3 245.1L1223.7 243.9L1220.8 242.7L1224.5 241.5L1221.9 240.3L1223.8 238.8L1226.3 239.8L1223.3 240.9L1227.5 242.0L1225.1 243.0L1228.6 244.1L1227.5 245.0L1226.3 246.2L1229.6 247.4L1226.6 248.7L1230.0 249.9L1226.9 251.1L1230.6 252.3L1229.4 253.8L1227.7 255.0L1231.4 256.2L1228.6 257.4L1232.1 258.6L1229.6 259.8L1232.7 261.0L1229.6 262.2L1233.3 263.5L1230.6 264.7L1232.5 266.2L1234.4 265.0L1231.4 263.8L1234.5 262.5L1231.9 261.3L1235.1 260.0L1231.4 258.8L1235.4 257.6L1232.0 256.3L1235.5 255.1L1232.5 253.8L1235.7 252.6L1232.9 251.3L1234.4 250.0L1236.6 251.2L1232.9 252.5L1236.6 253.7L1233.6 254.9L1236.8 256.2L1234.0 257.4L1237.1 258.7L1234.1 259.9L1237.7 261.1L1236.2 262.5L1234.7 263.7L1238.4 265.0L1235.4 266.2L1238.1 267.5L1235.1 268.7L1239.1 270.0L1235.8 271.2L1239.0 272.4L1236.0 273.7L1239.6 274.9L1235.9 276.2L1239.3 277.4L1238.1 278.8L1236.5 277.5L1240.1 276.3L1237.3 275.1L1240.8 273.8L1237.5 272.6L1240.7 271.4L1237.6 270.1L1241.0 268.9L1240.0 267.5L1241.2 257.5H1242.3V254.5H1243.3V258.7H1244.4V253.2H1245.0V255.0H1250.0H1250.9V257.8H1251.8V254.4H1252.7V259.8H1253.8V258.8L1252.4 260.0L1256.4 261.2L1252.9 262.4L1256.7 263.6L1253.9 264.8L1257.7 266.0L1256.2 267.5L1255.0 268.7L1258.3 270.0L1255.5 271.2L1258.7 272.4L1255.7 273.7L1257.5 275.0L1259.4 276.2L1256.3 277.4L1260.7 278.5L1257.3 279.7L1261.1 280.9L1258.5 282.1L1260.6 283.8L1262.3 282.5L1259.2 281.3L1263.0 280.1L1259.5 278.8L1263.5 277.6L1260.0 276.4L1263.5 275.1L1262.5 273.8H1263.8V271.8H1265.0V275.5H1266.2V273.8H1267.4V270.8H1268.8V272.5L1270.9 273.7L1267.5 275.0L1271.2 276.2L1267.5 277.4L1271.1 278.7L1267.8 279.9L1270.0 281.2L1271.3 282.4L1267.4 283.6L1270.8 284.8L1266.5 286.0L1269.5 287.2L1267.5 288.8H1268.5V287.2H1269.5V292.8H1270.5V288.9H1271.5V294.3H1272.5V292.5H1273.4V289.3H1274.3V292.7H1275.2V287.8H1276.2V288.8L1277.9 289.9L1275.2 291.1L1279.6 292.2L1276.5 293.4L1278.8 295.0L1280.6 296.1L1280.0 297.5L1278.6 298.7L1282.2 300.0L1278.7 301.2L1283.0 302.4L1279.8 303.6L1283.4 304.9L1280.3 306.1L1283.8 307.3L1280.8 308.5L1282.5 310.0L1284.7 308.8L1281.6 307.5L1285.0 306.3L1281.4 305.1L1285.5 303.9L1282.1 302.6L1285.7 301.4L1282.7 300.2L1285.8 298.9L1283.4 297.7L1285.0 296.2L1286.2 311.2L1288.5 312.4L1285.3 313.6L1289.3 314.8L1286.1 316.0L1290.1 317.2L1288.8 318.8L1290.0 305.0L1288.2 306.2L1291.9 307.5L1288.9 308.7L1292.7 309.9L1289.1 311.1L1292.7 312.4L1290.1 313.6L1293.2 314.8L1290.5 316.1L1294.0 317.3L1292.5 318.8L1291.2 317.5L1295.1 316.3L1292.1 315.1L1295.8 313.9L1292.6 312.7L1296.2 311.5L1295.0 310.0L1293.6 311.2L1297.0 312.5L1293.9 313.7L1297.3 314.9L1294.1 316.2L1297.9 317.4L1296.2 318.8L1295.1 317.5L1298.2 316.3L1295.2 315.0L1298.4 313.8L1295.5 312.6L1299.0 311.3L1295.4 310.1L1299.2 308.8L1296.5 307.6L1299.6 306.4L1296.7 305.1L1298.1 304.4H1306.2V303.8H1312.5V304.4L1314.3 305.6L1310.8 306.8L1313.8 308.1L1310.0 309.3L1313.4 310.5L1309.6 311.8L1312.9 313.0L1308.8 314.2L1311.9 315.5L1309.0 316.7L1311.7 317.9L1310.0 318.8L1308.5 317.5L1312.6 316.3L1309.8 315.1L1313.1 313.9L1309.7 312.7L1314.0 311.5L1310.6 310.3L1314.4 309.1L1313.1 307.5L1314.4 326.2L1313.1 327.5L1316.9 328.7L1313.7 329.9L1317.2 331.1L1314.5 332.3L1318.0 333.5L1316.9 335.0L1315.5 333.8L1318.6 332.5L1315.8 331.3L1319.6 330.1L1315.9 328.8L1319.8 327.6L1316.2 326.4L1319.9 325.1L1317.2 323.9L1320.7 322.7L1317.4 321.4L1321.0 320.2L1319.4 319.4L1320.6 340.0L1319.4 338.8L1322.9 337.6L1320.4 336.4L1323.6 335.2L1320.5 334.0L1324.5 332.8L1321.4 331.6L1324.7 330.4L1323.8 328.8L1325.0 345.0L1323.3 343.8L1327.2 342.5L1323.6 341.3L1327.2 340.0L1324.3 338.8L1327.0 337.5L1324.5 336.3L1327.5 335.0L1324.5 333.8L1327.7 332.6L1325.1 331.3L1328.2 330.1L1325.3 328.8L1328.5 327.6L1326.9 326.2L1328.1 350.0L1326.4 348.8L1330.3 347.6L1327.3 346.3L1331.0 345.1L1328.1 343.9L1331.1 342.7L1328.3 341.4L1331.8 340.2L1328.8 339.0L1332.7 337.8L1329.4 336.5L1331.2 335.0L1332.5 351.2L1334.1 350.0L1331.7 348.8L1335.2 347.6L1332.2 346.3L1335.2 345.1L1332.0 343.9L1335.9 342.6L1332.4 341.4L1336.5 340.2L1333.5 339.0L1335.0 337.5L1335.6 351.2L1337.0 350.0L1334.6 348.8L1337.7 347.5L1334.3 346.3L1338.2 345.0L1334.6 343.8L1338.6 342.6L1335.4 341.3L1338.2 340.1L1335.4 338.8L1339.1 337.6L1335.9 336.3L1337.5 335.0" stroke="#b03121" stroke-width="3.7" fill="none" stroke-linejoin="round" stroke-linecap="round"/>
<path d="M817.60 443.05v-7M860.75 443.05v-3.2M903.90 443.05v-7M947.45 443.05v-3.2M991.00 443.05v-7M1034.25 443.05v-3.2M1077.50 443.05v-7M1121.30 443.05v-3.2M1165.10 443.05v-7M1208.05 443.05v-3.2M1251.00 443.05v-7M1294.05 443.05v-3.2M1337.10 443.05v-7M808.75 52.50h8.4M808.75 101.65h4.6M808.75 150.80h8.4M808.75 200.00h4.6M808.75 249.20h8.4M808.75 297.90h4.6M808.75 346.60h8.4M808.75 394.83h4.6" stroke="#000" stroke-width="2.6" fill="none"/>
<rect x="808.75" y="3.40" width="546.45" height="439.65" fill="none" stroke="#000" stroke-width="2.85"/>
<text x="798.1" y="62.1" text-anchor="end" letter-spacing="-0.4">100%</text>
<text x="798.1" y="159.9" text-anchor="end" letter-spacing="-0.4">90%</text>
<text x="798.1" y="257.6" text-anchor="end" letter-spacing="-0.4">80%</text>
<text x="798.1" y="355.4" text-anchor="end" letter-spacing="-0.4">70%</text>
<text x="798.1" y="453.2" text-anchor="end" letter-spacing="-0.4">60%</text>
<text x="817.0" y="479.6" text-anchor="middle" letter-spacing="-0.3">0</text>
<text x="903.3" y="479.6" text-anchor="middle" letter-spacing="-0.3">100</text>
<text x="990.4" y="479.6" text-anchor="middle" letter-spacing="-0.3">200</text>
<text x="1076.9" y="479.6" text-anchor="middle" letter-spacing="-0.3">300</text>
<text x="1164.5" y="479.6" text-anchor="middle" letter-spacing="-0.3">400</text>
<text x="1250.4" y="479.6" text-anchor="middle" letter-spacing="-0.3">500</text>
<text x="1336.5" y="479.6" text-anchor="middle" letter-spacing="-0.3">600</text>
<text transform="translate(706.3 223.7) rotate(-90)" text-anchor="middle">SOH</text>
<text x="1082.2" y="532.4" text-anchor="middle" font-size="34.3" letter-spacing="0.45">Cycle</text>
<text x="1082.5" y="575.6" text-anchor="middle" font-weight="bold" font-size="38" letter-spacing="0.7" fill="#333" stroke="#333">(b)</text>
<path d="M1122.95 70.9H1201.05" stroke="#1a1d40" stroke-width="3.7" stroke-linecap="round" fill="none"/>
<text x="1208.4" y="82.3" font-size="34.6">CS2-35</text>
<path d="M1122.95 112.9H1201.05" stroke="#b03121" stroke-width="3.7" stroke-linecap="round" fill="none"/>
<text x="1208.4" y="124.3" font-size="34.6">CS2-36</text>
</g>
<g id="panel-c">
<path d="M1507.80 5.40V443.05M1613.60 5.40V443.05M1721.00 5.40V443.05M1827.40 5.40V443.05M1933.30 5.40V443.05M1504.70 37.90H2040.40M1504.70 105.60H2040.40M1504.70 173.10H2040.40M1504.70 240.90H2040.40M1504.70 308.10H2040.40M1504.70 376.90H2040.40" stroke="#686868" stroke-width="1.45" stroke-dasharray="2.5 3.1" fill="none"/>
<path d="M1508.8 36.9H1509.8V38.6H1510.8V37.1H1511.9V39.9H1512.9V38.6H1514.0V41.3H1515.0V40.0H1516.0V42.8H1517.1V41.5H1518.1V44.2H1519.2V42.8H1520.0V44.4H1521.2V45.2H1522.5V43.0H1523.7V45.0H1524.4V43.8H1525.2V43.9H1526.0V46.4H1526.8V45.4H1527.7V48.8H1528.8L1528.4 49.9L1530.7 51.0L1529.8 52.1L1531.6 53.2L1530.8 54.3L1532.9 55.5L1532.5 56.2H1533.7V55.6H1534.8V58.4H1535.6V57.5L1535.0 58.7L1536.9 60.0L1535.5 61.2L1537.3 62.4L1535.7 63.7L1537.5 64.9L1536.9 66.2L1536.4 67.4L1538.5 68.6L1537.5 69.7L1539.7 70.9L1538.5 72.0L1540.4 73.2L1540.0 73.8L1539.5 74.9L1541.7 76.1L1540.7 77.2L1542.5 78.4L1542.5 80.0L1542.3 81.2L1544.2 82.3L1543.0 83.5L1545.2 84.6L1545.0 86.2L1544.6 87.4L1546.9 88.6L1545.5 89.7L1547.6 90.9L1547.5 92.5L1546.9 91.3L1548.9 90.1L1547.6 88.9L1549.5 87.6L1548.4 86.4L1549.4 85.0L1550.5 83.8L1549.1 82.6L1550.9 81.3L1549.9 80.1L1551.7 78.9L1550.4 77.7L1551.2 76.9L1552.3 78.1L1551.3 79.3L1553.1 80.5L1552.0 81.7L1553.5 82.9L1553.1 83.8L1552.6 85.0L1554.3 86.2L1553.2 87.4L1555.1 88.6L1553.6 89.9L1555.5 91.1L1555.0 92.5L1554.7 93.7L1556.6 94.9L1555.4 96.1L1557.5 97.2L1556.0 98.4L1558.3 99.6L1557.1 100.8L1558.8 102.0L1557.7 103.2L1558.8 103.8H1559.5V105.9H1560.2V104.5H1561.0V107.9H1561.8V106.5H1562.5V108.8H1563.5V109.1H1564.5V106.1H1565.6V106.2L1566.9 107.5L1565.4 108.7L1567.3 109.9L1566.1 111.1L1568.3 112.3L1567.1 113.5L1568.1 115.0L1569.3 116.2L1568.4 117.3L1570.5 118.5L1569.1 119.6L1571.1 120.8L1570.3 121.9L1571.2 122.5L1572.6 123.6L1571.6 124.7L1573.9 125.9L1572.5 127.0L1574.7 128.1L1573.8 129.2L1575.0 130.0L1576.1 131.2L1574.9 132.4L1577.0 133.6L1575.7 134.7L1577.8 135.9L1577.5 137.5L1578.1 122.5L1578.8 97.5L1580.0 81.2H1586.2V81.9L1585.4 83.1L1587.5 84.4L1586.0 85.6L1587.7 86.8L1586.2 88.1L1588.0 89.3L1586.7 90.6L1588.1 91.8L1586.7 93.0L1588.7 94.3L1587.0 95.5L1589.0 96.8L1588.1 97.5L1587.6 96.3L1589.5 95.1L1588.3 93.9L1590.3 92.7L1589.0 91.5L1591.2 90.3L1589.8 89.1L1591.2 87.5L1592.5 88.6L1591.4 89.8L1593.5 90.9L1592.6 92.1L1594.3 93.2L1593.6 94.4L1595.5 95.5L1595.0 96.2L1594.9 97.4L1596.7 98.5L1595.7 99.7L1597.6 100.8L1596.6 102.0L1598.8 103.1L1597.8 104.3L1598.8 105.0L1599.8 106.2L1598.2 107.5L1600.0 108.7L1598.8 109.9L1600.7 111.2L1600.0 112.5H1600.9V112.4H1601.8V115.3H1602.7V114.2H1603.5V116.9H1604.4V115.9H1605.0V117.5H1605.9V119.3H1606.8V118.1H1607.7V121.4H1608.5V119.8H1609.4V123.2H1610.0V122.5L1609.5 123.7L1611.3 125.0L1609.8 126.2L1611.6 127.4L1611.2 128.8H1612.1V128.8H1613.0V131.8H1613.9V130.5H1614.8V133.5H1615.7V132.2H1616.2V133.8H1617.1V135.6H1618.0V134.7H1618.9V137.3H1619.8V136.0H1620.7V139.2H1621.2V138.8L1620.9 139.9L1623.1 141.0L1622.1 142.1L1623.8 143.8H1624.6V145.5H1625.5V144.7H1626.4V147.3H1627.3V146.1H1628.2V149.1H1628.8V148.8H1629.6V148.4H1630.5V151.4H1631.4V150.1H1632.3V153.2H1633.2V152.3H1633.8V153.8L1635.0 154.9L1635.0 156.2H1636.1V156.0H1637.2V158.6H1638.4V156.9H1640.0V158.8L1641.1 159.9L1640.2 161.1L1642.3 162.2L1641.1 163.4L1642.5 165.0H1643.6V166.8H1644.7V164.9H1646.2V166.9L1647.5 168.0L1646.6 169.1L1648.9 170.2L1648.0 171.3L1650.1 172.4L1650.0 173.8H1651.0V173.6H1652.0V176.4H1653.0V175.0H1654.0V177.6H1655.0V177.5H1656.0V177.4H1657.0V180.3H1658.0V178.9H1659.0V181.4H1660.0V181.2H1660.8V181.4H1661.6V184.0H1662.3V183.2H1663.1V186.3H1663.9V185.1H1665.0V187.5H1665.7V189.8H1666.4V188.4H1667.1V191.8H1667.5V191.2H1668.6V190.8H1669.7V193.2H1670.9V191.6H1672.5V193.8H1677.5V195.0L1678.9 196.1L1678.0 197.2L1679.8 198.4L1680.0 200.0H1681.1V199.8H1682.2V202.3H1683.4V200.6H1685.0V202.5H1690.6V203.8L1691.1 204.9L1689.1 206.1L1690.0 207.3L1688.8 208.8H1693.8V210.0H1694.6V209.6H1695.5V212.9H1696.4V211.5H1697.3V214.5H1698.2V213.6H1698.8V215.0H1699.9V215.4H1701.0V212.7H1702.1V214.6H1703.8V212.5L1703.1 223.8H1703.9V222.0H1704.8V223.2H1705.6V220.0H1706.4V221.1H1707.5V218.8H1708.4V218.4H1709.3V221.3H1710.2V220.5H1711.2V222.5H1712.3V224.5H1713.3V223.1H1714.4V225.4H1715.0V225.0H1715.8V223.0H1716.6V224.2H1717.4V221.2H1718.1V221.2L1718.8 222.5L1717.3 223.7L1718.8 225.0L1717.1 226.2L1718.2 227.5L1717.5 228.8H1722.5V227.5H1723.4H1724.3V230.6H1725.2V229.2H1726.2V231.2H1727.3V231.9H1728.4V228.8H1729.5V230.2H1730.6V228.8L1730.1 230.0L1731.5 231.2L1730.0 232.5L1731.6 233.7L1730.5 235.0L1731.2 236.2H1736.2V237.5H1737.4V239.0H1738.6V237.2H1740.0V238.8H1740.7V240.8H1741.4V239.5H1742.1V242.8H1742.5V242.5H1743.7V240.8H1744.9V242.7H1746.2V241.2H1747.3V241.0H1748.3V243.8H1749.4V242.3H1750.0V243.8H1751.2V245.0H1752.4V243.4H1753.8V245.0L1754.8 246.2L1753.9 247.4L1755.6 248.6L1754.5 249.7L1756.6 250.9L1756.2 252.5L1755.6 233.8H1757.5L1757.2 234.9L1759.1 236.1L1757.7 237.3L1760.0 238.5L1758.7 239.7L1760.0 241.2L1761.1 242.4L1760.0 243.6L1762.0 244.7L1761.1 245.9L1762.5 247.5H1763.2V247.4H1763.9V244.2H1764.6V245.5H1765.0V243.8L1764.6 245.0L1766.5 246.2L1764.9 247.4L1766.8 248.6L1765.7 249.9L1767.3 251.1L1766.2 252.3L1768.1 253.5L1767.5 255.0L1766.8 253.8L1768.7 252.6L1767.6 251.3L1769.2 250.1L1768.2 248.9L1769.7 247.7L1769.4 246.2L1769.1 247.5L1770.8 248.7L1769.6 249.9L1771.3 251.1L1770.1 252.3L1771.2 253.8L1772.4 254.9L1771.7 256.0L1773.7 257.1L1773.8 258.8H1774.8V258.2H1775.8V261.0H1776.9V259.7H1777.5V261.2L1778.7 262.5L1777.1 263.7L1778.8 264.9L1777.8 266.2L1778.8 267.5L1779.9 268.7L1778.7 269.9L1780.6 271.1L1779.0 272.4L1781.1 273.6L1780.6 275.0L1781.2 253.8H1781.9L1781.8 254.9L1783.7 256.0L1783.8 257.5L1785.0 267.5H1785.9V267.3H1786.8V270.4H1787.7V269.0H1788.5V272.1H1789.4V270.9H1790.0V272.5L1791.5 273.6L1790.4 274.7L1792.6 275.9L1791.3 277.0L1793.4 278.1L1793.1 278.8H1794.3V277.4H1795.5V279.2H1796.7V276.8H1797.5V277.5H1798.5V279.1H1799.5V278.1H1800.5V280.6H1801.5V279.6H1802.5V281.2L1803.9 282.4L1802.6 283.5L1804.8 284.6L1805.0 286.2L1804.6 287.4L1806.5 288.6L1805.2 289.8L1807.2 291.0L1806.0 292.2L1807.5 293.8L1808.3 295.0L1807.0 296.2L1808.4 297.5L1807.0 298.7L1808.7 300.0L1807.2 301.2L1808.1 302.5L1809.3 303.7L1808.1 304.9L1809.7 306.1L1808.4 307.4L1810.2 308.6L1810.0 310.0L1809.8 311.1L1811.9 312.1L1811.3 313.2L1813.2 314.3L1812.3 315.4L1813.8 316.2H1814.9V317.9H1816.1V316.0H1817.3V318.5H1818.5V316.8H1820.0V318.1L1820.8 316.9L1819.7 315.7L1821.4 314.4L1820.0 313.2L1821.6 311.9L1820.6 310.7L1821.2 310.0L1821.9 286.2H1822.7V288.2H1823.5V287.1H1824.3V290.0H1825.0H1825.9V290.1H1826.8V292.9H1827.7V291.5H1828.8V293.8L1830.2 294.8L1829.4 295.9L1831.5 297.0L1830.5 298.1L1832.6 299.2L1831.5 300.3L1833.9 301.3L1833.8 302.5L1833.2 301.3L1834.9 300.0L1833.8 298.8L1835.4 297.6L1833.9 296.4L1835.7 295.1L1834.7 293.9L1835.6 292.5L1836.9 293.6L1835.8 294.7L1838.0 295.9L1838.1 297.5H1838.9V297.6H1839.7V300.6H1840.5V299.4H1841.2V301.2H1846.2V302.5L1847.4 303.7L1846.2 304.9L1848.1 306.1L1847.5 307.5H1848.4H1849.3V310.1H1850.2V309.3H1851.2V311.2L1852.4 312.4L1851.5 313.6L1853.6 314.7L1852.5 315.9L1853.8 317.5H1858.8L1860.0 316.4L1858.9 315.3L1861.3 314.1L1861.2 312.5L1860.4 311.3L1862.4 310.0L1860.8 308.8L1862.2 307.5L1861.1 306.3L1862.6 305.0L1861.9 303.8L1861.5 304.9L1863.5 306.1L1862.6 307.2L1864.0 308.8H1864.8V310.9H1865.5V309.7H1866.2V312.8H1867.0V311.8H1867.8V313.8H1868.9V315.6H1870.0V313.9H1871.5V315.6L1872.7 316.8L1871.4 318.0L1873.1 319.2L1872.8 320.0L1872.3 318.8L1874.2 317.6L1873.2 316.4L1875.1 315.3L1874.1 314.1L1875.2 312.5L1876.4 313.7L1875.3 314.9L1877.1 316.1L1875.8 317.3L1877.1 318.8L1878.6 319.9L1877.5 321.0L1879.4 322.1L1878.4 323.2L1880.8 324.3L1880.2 325.0L1879.9 326.1L1882.1 327.2L1881.1 328.4L1882.8 330.0H1884.0V331.4H1885.2V329.5H1886.5V330.6H1887.7V332.1H1888.9V330.2H1890.2V331.9H1891.0V333.7H1891.8V333.0H1892.8V335.0H1894.0V336.0H1895.2V333.8H1896.5V335.0H1897.6V336.7H1898.7V335.0H1899.9V337.9H1901.5V337.5L1901.2 336.4L1903.3 335.3L1902.3 334.1L1904.0 332.5L1905.3 333.6L1904.4 334.7L1906.4 335.9L1906.5 337.5L1906.0 338.7L1907.7 340.0L1906.4 341.2L1908.1 342.4L1906.9 343.7L1907.8 345.0H1908.5V347.2H1909.2V346.0H1910.0V349.0H1910.8V347.9H1911.5V350.0L1913.0 351.1L1912.2 352.1L1914.2 353.2L1913.4 354.3L1915.4 355.4L1915.2 356.2L1914.8 355.0L1916.4 353.8L1914.9 352.5L1916.7 351.3L1915.2 350.1L1917.0 348.8L1916.5 347.5L1916.0 346.3L1917.7 345.1L1916.6 343.9L1918.4 342.6L1917.3 341.4L1918.4 340.0L1919.4 341.2L1918.3 342.4L1920.2 343.6L1918.9 344.9L1920.5 346.1L1920.2 347.5H1920.9V347.7H1921.6V350.5H1922.3V349.4H1922.8V351.2H1924.0V352.1H1925.2V349.7H1926.5V350.6H1927.2V352.7H1928.0V351.7H1928.7V354.8H1929.6V355.0L1929.3 353.8L1931.2 352.7L1930.2 351.5L1932.1 350.4L1932.1 348.8L1931.7 349.9L1933.9 351.0L1934.0 352.5H1935.2V351.7H1936.5V353.9H1937.8V353.1H1938.6V352.9H1939.4V356.0H1940.2V355.1H1941.0V358.0H1941.5V357.5L1941.2 358.7L1943.0 359.9L1941.8 361.1L1943.8 362.3L1943.4 363.8L1944.0 342.5L1943.7 343.6L1945.8 344.7L1944.8 345.9L1946.5 347.5L1947.6 348.7L1946.3 349.9L1948.3 351.1L1947.3 352.2L1949.2 353.4L1949.0 355.0H1950.0V354.5H1951.1V357.6H1952.1V355.9H1952.8V357.5L1954.2 358.6L1953.0 359.7L1955.0 360.9L1954.1 362.0L1956.3 363.1L1955.9 363.8L1955.3 362.5L1957.1 361.3L1955.7 360.0L1957.5 358.8L1955.9 357.6L1957.7 356.3L1956.3 355.1L1958.0 353.8L1956.8 352.6L1958.3 351.4L1957.8 350.0L1957.7 351.1L1959.6 352.2L1958.5 353.4L1960.2 355.0H1961.3V356.8H1962.3V355.5H1963.4V357.9H1964.0V357.5L1963.7 358.6L1965.8 359.7L1964.9 360.9L1967.0 362.0L1965.9 363.1L1968.1 364.2L1967.3 365.3L1969.3 366.4L1969.0 367.5L1968.6 366.3L1970.2 365.0L1968.8 363.8L1970.6 362.6L1969.3 361.3L1970.9 360.1L1969.8 358.9L1971.4 357.6L1970.1 356.4L1971.9 355.2L1970.5 354.0L1971.5 353.1L1973.0 354.3L1971.7 355.4L1973.8 356.6L1972.9 357.7L1974.0 358.8H1975.0V360.3H1976.1V359.1H1977.1V362.0H1977.8V361.2H1978.6V361.2H1979.5V364.3H1980.4V362.9H1981.3V365.7H1982.2V364.8H1982.8V366.2H1983.6V368.0H1984.5V367.0H1985.4V370.1H1986.5V370.0H1991.5V371.2H1992.2V371.3H1993.0V374.1H1993.8V373.1H1994.5V376.2H1995.2L1996.5 350.0H1998.4L1997.7 351.2L1999.5 352.5L1997.9 353.7L1999.7 355.0L1998.4 356.2L1999.8 357.5L1998.4 358.7L2000.4 359.9L1998.9 361.2L2000.4 362.4L1999.2 363.7L2000.7 364.9L2000.2 366.2H2005.2H2006.3V365.9H2007.3V368.6H2008.4V367.3H2009.0V368.8L2010.3 370.0L2008.7 371.2L2010.6 372.4L2010.2 373.8L2010.5 337.5H2011.8V336.2H2013.0V338.4H2014.0V337.5H2014.9V337.4H2015.8V340.2H2016.7V339.3H2017.8V341.2L2018.7 342.5L2017.6 343.7L2019.4 344.9L2018.3 346.1L2020.0 347.3L2019.6 348.8L2018.9 350.0L2020.4 351.2L2018.8 352.5L2019.6 353.8" stroke="#1a1d40" stroke-width="5.0" fill="none" stroke-linejoin="round" stroke-linecap="round"/>
<path d="M1508.8 36.9H1509.6V39.0H1510.5V37.8H1511.4V40.6H1512.3V39.4H1513.2V42.4H1513.8V41.9H1514.5V42.1H1515.2V45.0H1516.0V44.0H1516.8V46.7H1517.5V46.9L1517.2 48.1L1519.0 49.3L1517.6 50.5L1519.8 51.7L1518.6 52.9L1520.3 54.1L1519.4 55.3L1521.1 56.5L1520.6 57.5L1520.6 56.4L1522.5 55.4L1521.6 54.3L1524.0 53.2L1523.0 52.1L1524.4 51.2H1525.0V53.1H1525.7V52.3H1526.4V55.5H1527.0V54.4H1527.5V56.2L1528.7 57.4L1528.0 58.5L1530.1 59.6L1529.0 60.7L1531.1 61.8L1530.6 62.5L1530.5 63.7L1532.3 64.8L1531.3 66.0L1533.3 67.1L1533.1 68.8L1532.6 70.0L1534.3 71.2L1533.0 72.4L1535.1 73.6L1533.8 74.9L1535.4 76.1L1535.0 77.5L1535.6 87.5L1534.8 88.7L1536.6 90.0L1535.1 91.2L1537.0 92.5L1535.3 93.7L1536.2 95.0L1536.9 105.0L1537.8 106.2L1536.8 107.4L1538.4 108.6L1537.3 109.9L1539.0 111.1L1538.8 112.5L1538.0 113.7L1539.8 115.0L1538.5 116.2L1540.5 117.4L1538.9 118.7L1540.0 120.0H1540.8V122.1H1541.6V120.9H1542.4V124.2H1543.1V123.8H1543.9V123.6H1544.6V126.8H1545.3V125.6H1546.2V128.1L1547.1 126.9L1545.8 125.7L1547.8 124.4L1546.3 123.2L1548.1 121.9L1546.7 120.7L1547.5 120.0L1547.5 101.2H1549.4L1550.5 102.5L1549.3 103.7L1550.9 104.9L1549.7 106.1L1551.6 107.3L1551.2 108.8L1550.9 109.9L1552.9 111.1L1551.8 112.3L1553.7 113.5L1552.5 114.7L1553.8 116.2L1554.9 117.4L1554.2 118.5L1556.2 119.6L1555.3 120.7L1557.4 121.8L1556.9 122.5H1558.1V121.7H1559.3V124.0H1560.6V122.1H1561.2V123.1H1561.9V125.2H1562.6V124.3H1563.3V127.5H1564.0V126.5H1565.0V128.8L1566.0 129.9L1564.9 131.1L1566.8 132.3L1565.6 133.5L1566.9 135.0L1567.9 136.2L1567.0 137.4L1568.8 138.6L1567.7 139.7L1569.5 140.9L1569.4 142.5L1569.1 143.7L1570.8 144.9L1569.8 146.0L1571.8 147.2L1570.7 148.4L1572.7 149.6L1572.5 151.2L1573.8 141.2L1574.4 122.5L1574.4 95.0H1575.6V94.2H1576.9V95.0L1577.9 96.2L1576.6 97.4L1578.8 98.6L1577.6 99.8L1578.8 101.2L1580.2 102.4L1579.0 103.5L1581.2 104.6L1581.2 106.2H1582.2H1583.2V109.0H1584.2V107.4H1585.2V110.4H1586.2V110.0H1587.4V108.5H1588.5V109.8H1590.0V108.1H1590.8V107.8H1591.6V111.3H1592.5L1592.0 112.5L1593.8 113.7L1592.7 114.9L1594.6 116.1L1593.3 117.3L1595.4 118.5L1595.0 120.0L1594.9 121.1L1596.8 122.2L1595.9 123.4L1598.2 124.5L1597.1 125.6L1599.2 126.7L1598.8 127.5L1598.4 128.6L1600.5 129.7L1599.6 130.9L1601.6 132.0L1600.6 133.1L1601.9 133.8H1602.6V135.9H1603.3V134.8H1604.0V138.1H1604.7V137.0H1605.5V140.0H1606.2L1606.0 141.1L1608.4 142.1L1607.2 143.2L1609.6 144.3L1608.8 145.4L1610.0 146.2H1610.8V148.1H1611.5V147.1H1612.2V150.2H1613.0V149.4H1613.8V151.2L1615.0 152.4L1614.0 153.5L1616.4 154.6L1616.2 156.2L1616.1 157.3L1618.5 158.4L1617.4 159.5L1619.6 160.5L1618.5 161.6L1620.0 162.5H1620.9V164.5H1621.8V163.4H1622.7V166.3H1623.5V165.1H1624.4V168.0H1625.0V167.5L1624.7 168.6L1626.8 169.7L1626.0 170.9L1627.8 172.0L1627.2 173.1L1628.1 173.8H1628.8V175.8H1629.6V174.6H1630.3V178.1H1631.0V176.7H1631.7V179.7H1632.5V180.0H1633.7V179.1H1634.9V181.6H1636.2V181.2L1636.1 182.3L1638.3 183.4L1637.3 184.5L1639.8 185.5L1638.7 186.6L1640.0 187.5L1641.1 188.7L1639.9 189.9L1641.6 191.1L1641.2 192.5H1642.2V192.2H1643.2V194.9H1644.2V193.5H1645.2V196.5H1646.2V196.2L1646.0 197.4L1648.2 198.5L1647.3 199.6L1648.8 201.2H1649.6V203.3H1650.5V202.1H1651.4V205.0H1652.3V204.0H1653.2V206.8H1653.8V206.2H1654.6H1655.5V209.0H1656.4V207.8H1657.3V211.0H1658.2V209.7H1658.8V211.2H1659.8V213.2H1660.8V211.5H1661.8V214.5H1662.8V213.2H1663.8V215.0H1664.4V217.2H1665.1V215.8H1665.8V219.3H1666.2V218.8H1667.1H1668.0V221.5H1668.9V220.4H1670.0V222.5H1671.1V223.1H1672.2V220.4H1673.4V222.0H1675.0V220.0L1674.0 221.2L1675.4 222.5L1673.6 223.7L1674.7 224.9L1673.8 226.2H1681.2H1682.0V226.3H1682.8V229.4H1683.5V228.3H1684.2V231.5H1685.0V231.2H1685.7V231.1H1686.4V234.4H1687.1V233.5H1687.5V235.0H1693.8V234.4L1695.1 235.5L1693.9 236.7L1695.9 237.8L1694.8 238.9L1696.2 240.0H1701.2H1700.6V241.8H1699.9V241.1H1699.2V244.1H1698.8V243.8H1706.2V243.1H1711.2V242.5L1710.7 243.7L1712.9 244.9L1711.7 246.1L1712.5 246.9H1713.4V247.1H1714.4V244.2H1715.3V245.2H1716.3V242.5H1717.5H1722.5V243.8H1723.6V245.5H1724.7V243.9H1725.9V246.3H1727.5V246.2L1727.3 247.4L1729.4 248.5L1728.4 249.6L1730.0 251.2H1735.0V250.0L1736.2 251.2L1735.2 252.3L1737.2 253.5L1736.2 254.6L1737.5 256.2H1742.5V257.5L1743.9 256.4L1742.7 255.3L1744.9 254.1L1743.9 253.0L1746.1 251.9L1745.0 250.8L1746.2 250.0H1747.2V250.4H1748.2V247.4H1748.8V248.1H1749.6V250.1H1750.4V249.0H1751.2V252.1H1752.0V250.8H1752.5V252.5H1753.2V254.7H1753.9V253.6H1754.6V256.5H1755.0V256.2H1756.0V255.8H1757.1V258.4H1758.1V257.5H1758.8V258.8H1763.8V257.5L1765.0 258.6L1764.0 259.7L1766.2 260.9L1766.2 262.5H1767.4V261.0H1768.5V262.6H1769.6V259.9H1771.2V260.0H1776.2V261.2H1777.1V263.2H1778.0V261.9H1778.9V264.8H1780.0V265.0H1780.7V264.9H1781.4V268.0H1782.1V267.0H1782.5V268.8L1783.7 267.6L1782.6 266.5L1784.7 265.3L1783.6 264.2L1785.6 263.0L1784.7 261.9L1786.6 260.7L1786.2 260.0H1786.9V259.9H1787.6V263.0H1788.3V261.9H1788.8V263.8H1789.8V265.5H1790.8V264.3H1791.9V266.8H1792.5V266.2H1793.5V266.1H1794.6V268.5H1795.6V267.3H1796.2V268.8H1805.0H1805.9V270.7H1806.8V269.4H1807.7V272.6H1808.8V272.5H1815.0V271.2H1816.0V271.1H1817.1V273.9H1818.1V272.3H1818.8V273.8H1819.9V275.4H1821.0V273.7H1822.1V276.5H1823.8V276.2H1828.8V276.9H1829.8V275.1H1830.8V276.6H1831.8V273.5H1833.1V273.8L1834.3 275.0L1832.8 276.2L1834.7 277.4L1833.7 278.6L1835.5 279.8L1835.0 281.2L1834.9 282.4L1836.8 283.5L1835.8 284.6L1837.5 286.2H1838.5V287.8H1839.6V286.5H1840.6V289.5H1841.2V288.8H1842.1V286.8H1842.9V288.0H1843.7V284.7H1844.6V286.3H1845.4V282.8H1846.2V283.1L1847.6 284.2L1846.7 285.3L1848.9 286.4L1848.8 287.5H1849.9V286.3H1851.1V287.7H1852.5V286.2H1853.6V284.7H1854.7V286.0H1855.9V283.3H1857.0V285.0H1858.1V282.5H1858.8V283.1L1860.0 284.2L1859.1 285.3L1861.5 286.4L1861.2 287.5L1861.2 300.0H1862.4V298.2H1863.5V299.8H1864.6V297.2H1866.2V297.5H1867.0V299.3H1867.8V298.3H1868.5V301.8H1869.2V300.4H1870.0V302.5H1876.2H1877.1V304.3H1878.0V303.2H1878.9V306.4H1880.0V306.2H1881.0V305.8H1881.9V309.1H1882.9V307.7H1883.8V309.4H1885.0V310.6H1886.2V308.7H1887.5V310.0L1888.3 311.2L1886.8 312.5L1888.1 313.8L1886.6 315.0L1888.2 316.2L1887.5 317.5H1888.2V317.6H1889.0V320.6H1889.7V319.3H1890.2V321.2L1890.8 322.5L1889.2 323.7L1890.6 324.9L1888.7 326.2L1890.1 327.4L1889.0 328.8H1889.9V327.0H1890.8V327.9H1891.7V324.8H1892.8V325.0L1894.0 326.1L1893.0 327.2L1895.3 328.4L1895.2 330.0L1894.9 331.1L1897.1 332.2L1896.1 333.4L1897.8 335.0L1898.7 336.2L1897.6 337.4L1899.3 338.6L1898.1 339.9L1899.9 341.1L1899.6 342.5L1900.9 355.0L1900.9 377.5L1900.1 378.7L1901.8 380.0L1900.7 381.2L1902.3 382.5L1900.9 383.7L1902.4 385.0L1900.8 386.2L1902.7 387.5L1901.4 388.7L1903.1 389.9L1901.3 391.2L1903.3 392.4L1902.5 393.8L1902.1 394.9L1904.2 396.1L1903.0 397.2L1905.0 398.4L1905.0 400.0L1904.5 401.2L1906.0 402.5L1904.7 403.7L1906.1 405.0L1904.7 406.2L1905.6 407.5L1906.8 408.7L1905.2 410.0L1907.0 411.2L1905.9 412.4L1906.9 413.8" stroke="#b03121" stroke-width="5.0" fill="none" stroke-linejoin="round" stroke-linecap="round"/>
<path d="M1507.80 443.05v-7M1560.70 443.05v-3.2M1613.60 443.05v-7M1667.30 443.05v-3.2M1721.00 443.05v-7M1774.20 443.05v-3.2M1827.40 443.05v-7M1880.35 443.05v-3.2M1933.30 443.05v-7M1986.85 443.05v-3.2M1494.70 37.90h8.4M1494.70 71.75h4.6M1494.70 105.60h8.4M1494.70 139.35h4.6M1494.70 173.10h8.4M1494.70 207.00h4.6M1494.70 240.90h8.4M1494.70 274.50h4.6M1494.70 308.10h8.4M1494.70 342.50h4.6M1494.70 376.90h8.4M1494.70 409.98h4.6" stroke="#000" stroke-width="2.6" fill="none"/>
<rect x="1494.70" y="3.40" width="545.70" height="439.65" fill="none" stroke="#000" stroke-width="2.85"/>
<text x="1484.1" y="47.4" text-anchor="end" letter-spacing="-0.4">100%</text>
<text x="1484.1" y="115.0" text-anchor="end" letter-spacing="-0.4">90%</text>
<text x="1484.1" y="182.7" text-anchor="end" letter-spacing="-0.4">80%</text>
<text x="1484.1" y="250.3" text-anchor="end" letter-spacing="-0.4">70%</text>
<text x="1484.1" y="317.9" text-anchor="end" letter-spacing="-0.4">60%</text>
<text x="1484.1" y="385.6" text-anchor="end" letter-spacing="-0.4">50%</text>
<text x="1484.1" y="453.2" text-anchor="end" letter-spacing="-0.4">40%</text>
<text x="1507.2" y="479.6" text-anchor="middle" letter-spacing="-0.3">0</text>
<text x="1613.0" y="479.6" text-anchor="middle" letter-spacing="-0.3">80</text>
<text x="1720.4" y="479.6" text-anchor="middle" letter-spacing="-0.3">160</text>
<text x="1826.8" y="479.6" text-anchor="middle" letter-spacing="-0.3">240</text>
<text x="1932.7" y="479.6" text-anchor="middle" letter-spacing="-0.3">320</text>
<text x="2039.8" y="479.6" text-anchor="middle" letter-spacing="-0.3">400</text>
<text transform="translate(1392.1 223.7) rotate(-90)" text-anchor="middle">SOH</text>
<text x="1767.0" y="532.4" text-anchor="middle" font-size="34.3" letter-spacing="0.45">Cycle</text>
<text x="1767.0" y="575.6" text-anchor="middle" font-weight="bold" font-size="38" letter-spacing="0.7" fill="#333" stroke="#333">(c)</text>
<path d="M1823.31 100.2H1899.89" stroke="#1a1d40" stroke-width="5.5" stroke-linecap="round" fill="none"/>
<text x="1907.8" y="110.8" font-size="34.6">DR-1</text>
<path d="M1823.31 142.5H1899.89" stroke="#b03121" stroke-width="5.5" stroke-linecap="round" fill="none"/>
<text x="1907.8" y="153.2" font-size="34.6">DR-3</text>
</g>
</svg>
</body>
</html>
